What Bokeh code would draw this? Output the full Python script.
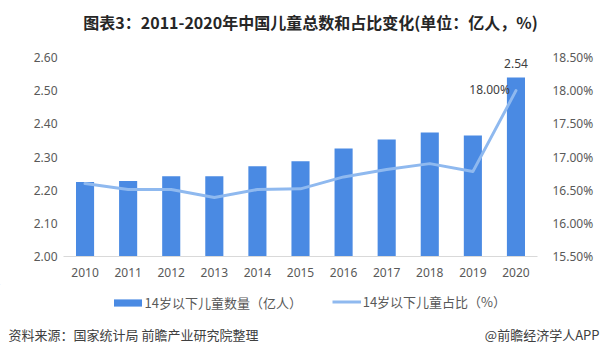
from bokeh.plotting import figure
from bokeh.layouts import column
from bokeh.models import (Range1d, LinearAxis, FixedTicker, PrintfTickFormatter,
                          Label, Legend, LegendItem, ColumnDataSource)
from bokeh.core.properties import value
from bokeh.embed import file_html
from bokeh.resources import INLINE

# ---- data ----
years = ["2010", "2011", "2012", "2013", "2014", "2015", "2016", "2017", "2018", "2019", "2020"]
children = [2.225, 2.228, 2.242, 2.242, 2.272, 2.287, 2.326, 2.353, 2.374, 2.365, 2.54]
share_pct = [16.60, 16.51, 16.51, 16.39, 16.51, 16.52, 16.70, 16.81, 16.90, 16.78, 18.00]
left_ticks = [2.0, 2.1, 2.2, 2.3, 2.4, 2.5, 2.6]
right_ticks = [15.5, 16.0, 16.5, 17.0, 17.5, 18.0, 18.5]

title_text = "图表3：2011-2020年中国儿童总数和占比变化(单位：亿人，%)"
bar_name = "14岁以下儿童数量（亿人）"
line_name = "14岁以下儿童占比（%）"
source_text = "资料来源：国家统计局 前瞻产业研究院整理"
credit_text = "@前瞻经济学人APP"

BAR_COLOR = "#4A8AE3"
LINE_COLOR = "#8FB9EF"
TICK_COLOR = "#595959"
CJK = "Noto Sans CJK SC"
W = 600
TOP_H, MAIN_H, FOOT_H = 40, 244, 60


def text_canvas(h):
    f = figure(width=W, height=h, output_backend="svg", toolbar_location=None,
               x_range=Range1d(0, W), y_range=Range1d(h, 0), min_border=0,
               x_axis_location=None, y_axis_location=None)
    f.outline_line_color = None
    f.xgrid.visible = False
    f.ygrid.visible = False
    f.frame_align = False
    return f


# ---- title ----
top = text_canvas(TOP_H)
top.text(x=[310], y=[21], text=[title_text], text_align="center", text_baseline="middle",
         text_font=value(CJK), text_font_size="16px", text_font_style="bold",
         text_color="#262626")

# ---- main chart ----
xs = list(range(len(years)))
src = ColumnDataSource(dict(x=xs, children=children, pct=share_pct))

p = figure(width=W, height=MAIN_H, output_backend="svg", toolbar_location=None,
           x_range=Range1d(-0.5, len(years) - 0.5), y_range=Range1d(2.0, 2.6),
           min_border_left=63, min_border_right=63, min_border_top=17, min_border_bottom=28,
           y_axis_location=None, x_axis_location=None)
p.outline_line_color = None
p.xgrid.visible = False
p.ygrid.visible = False
p.frame_align = False
p.extra_y_ranges = {"pct": Range1d(15.5, 18.5)}

bars = p.vbar(x="x", top="children", bottom=2.0, width=0.42, source=src,
              fill_color=BAR_COLOR, line_color=None)
line = p.line(x="x", y="pct", source=src, y_range_name="pct",
              line_color=LINE_COLOR, line_width=3, line_join="round", line_cap="round")

xaxis = LinearAxis(ticker=FixedTicker(ticks=xs),
                   major_label_overrides={i: y for i, y in enumerate(years)})
xaxis.axis_line_color = "#D9D9D9"
xaxis.axis_line_width = 1
xaxis.major_tick_line_color = None
xaxis.major_tick_out = 0
xaxis.major_tick_in = 0
xaxis.minor_tick_line_color = None
xaxis.major_label_standoff = 11
xaxis.major_label_text_font = "Noto Sans"
xaxis.major_label_text_font_size = "12px"
xaxis.major_label_text_color = TICK_COLOR
p.add_layout(xaxis, "below")

laxis = LinearAxis(ticker=FixedTicker(ticks=left_ticks),
                   formatter=PrintfTickFormatter(format="%.2f"))
raxis = LinearAxis(y_range_name="pct", ticker=FixedTicker(ticks=right_ticks),
                   formatter=PrintfTickFormatter(format="%.2f%%"))
for ax, st in ((laxis, 6), (raxis, 15)):
    ax.axis_line_color = None
    ax.major_tick_line_color = None
    ax.major_tick_out = 0
    ax.major_tick_in = 0
    ax.minor_tick_line_color = None
    ax.major_label_standoff = st
    ax.major_label_text_font = "Noto Sans"
    ax.major_label_text_font_size = "12px"
    ax.major_label_text_color = TICK_COLOR
p.add_layout(laxis, "left")
p.add_layout(raxis, "right")

last = len(years) - 1
p.add_layout(Label(x=xs[last], y=children[last], text=f"{children[last]:.2f}",
                   text_align="center", text_baseline="middle", y_offset=14,
                   text_font="Noto Sans", text_font_size="12px", text_color="#404040"))
p.add_layout(Label(x=xs[last], y=share_pct[last], y_range_name="pct",
                   text=f"{share_pct[last]:.2f}%", text_align="right", text_baseline="middle",
                   x_offset=-6, y_offset=1,
                   text_font="Noto Sans", text_font_size="12px", text_color="#404040"))

# ---- footer: legend + source ----
foot = text_canvas(FOOT_H)
# legend proxies placed outside the visible range (only their swatches are shown)
dummy_bar = foot.vbar(x=[-1000], top=[-1000], bottom=[-1001], width=1,
                      fill_color=BAR_COLOR, line_color=None)
dummy_line = foot.line(x=[-1000, -999], y=[-1000, -1000], line_color=LINE_COLOR, line_width=3)
leg_common = dict(orientation="horizontal", glyph_height=9, label_height=20,
                  padding=0, margin=0, border_line_color=None, background_fill_alpha=0,
                  label_text_font=CJK, label_text_font_size="13px",
                  label_text_color=TICK_COLOR)
leg1 = Legend(items=[LegendItem(label=bar_name, renderers=[dummy_bar])],
              location=(109.5, 31.7), glyph_width=35, label_standoff=0, **leg_common)
leg2 = Legend(items=[LegendItem(label=line_name, renderers=[dummy_line])],
              location=(331.7, 32.7), glyph_width=29, label_standoff=2, **leg_common)
foot.add_layout(leg1, "center")
foot.add_layout(leg2, "center")
foot.text(x=[8], y=[50], text=[source_text], text_align="left", text_baseline="middle",
          text_font=value(CJK), text_font_size="13px", text_color="#404040")
foot.text(x=[599], y=[50], text=[credit_text], text_align="right", text_baseline="middle",
          text_font=value(CJK), text_font_size="13px", text_color="#404040")

layout = column(top, p, foot, spacing=0)
open("out.html", "w").write(file_html(layout, INLINE))
